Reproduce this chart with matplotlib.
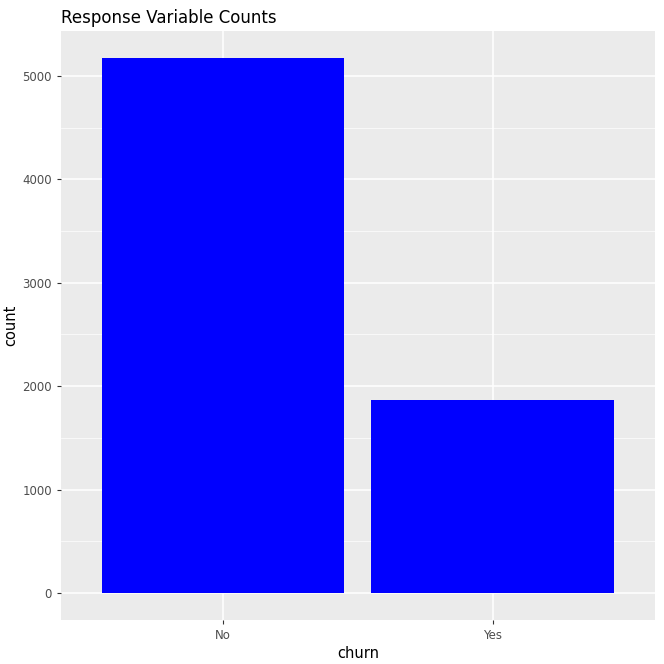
import matplotlib
matplotlib.use("Agg")
import matplotlib.pyplot as plt

# Churn response counts
categories = ['No', 'Yes']
counts = [5174, 1869]
y_ticks = [0, 1000, 2000, 3000, 4000, 5000]

fig = plt.figure(figsize=(6.64, 6.64), dpi=100)
ax = fig.add_axes([0.0919, 0.0663, 0.8945, 0.887])
ax.set_facecolor('#EBEBEB')

pos = list(range(1, len(categories) + 1))
ax.bar(pos, counts, width=0.9, color='#0000FF', zorder=3)

ax.set_xlim(0.4, len(categories) + 0.6)
top = max(counts) * 1.05
ax.set_ylim(-top + max(counts), top)
ax.set_xticks(pos)
ax.set_xticklabels(categories)
ax.set_yticks(y_ticks)

# ggplot-like grid: major and minor lines
ax.set_yticks([500, 1500, 2500, 3500, 4500], minor=True)
ax.grid(which='major', color='white', linewidth=1.1, zorder=0)
ax.grid(which='minor', axis='y', color='white', linewidth=0.5, zorder=0)
for s in ax.spines.values():
    s.set_visible(False)
ax.tick_params(which='major', length=3, color='#333333', labelcolor='#4D4D4D', labelsize=8.5)
ax.tick_params(which='minor', length=0)

ax.set_xlabel('churn', fontsize=10.5, labelpad=3)
ax.set_ylabel('count', fontsize=10.5, labelpad=3)
ax.set_title('Response Variable Counts', loc='left', fontsize=12, pad=6)

fig.savefig('out.png', dpi=100)
